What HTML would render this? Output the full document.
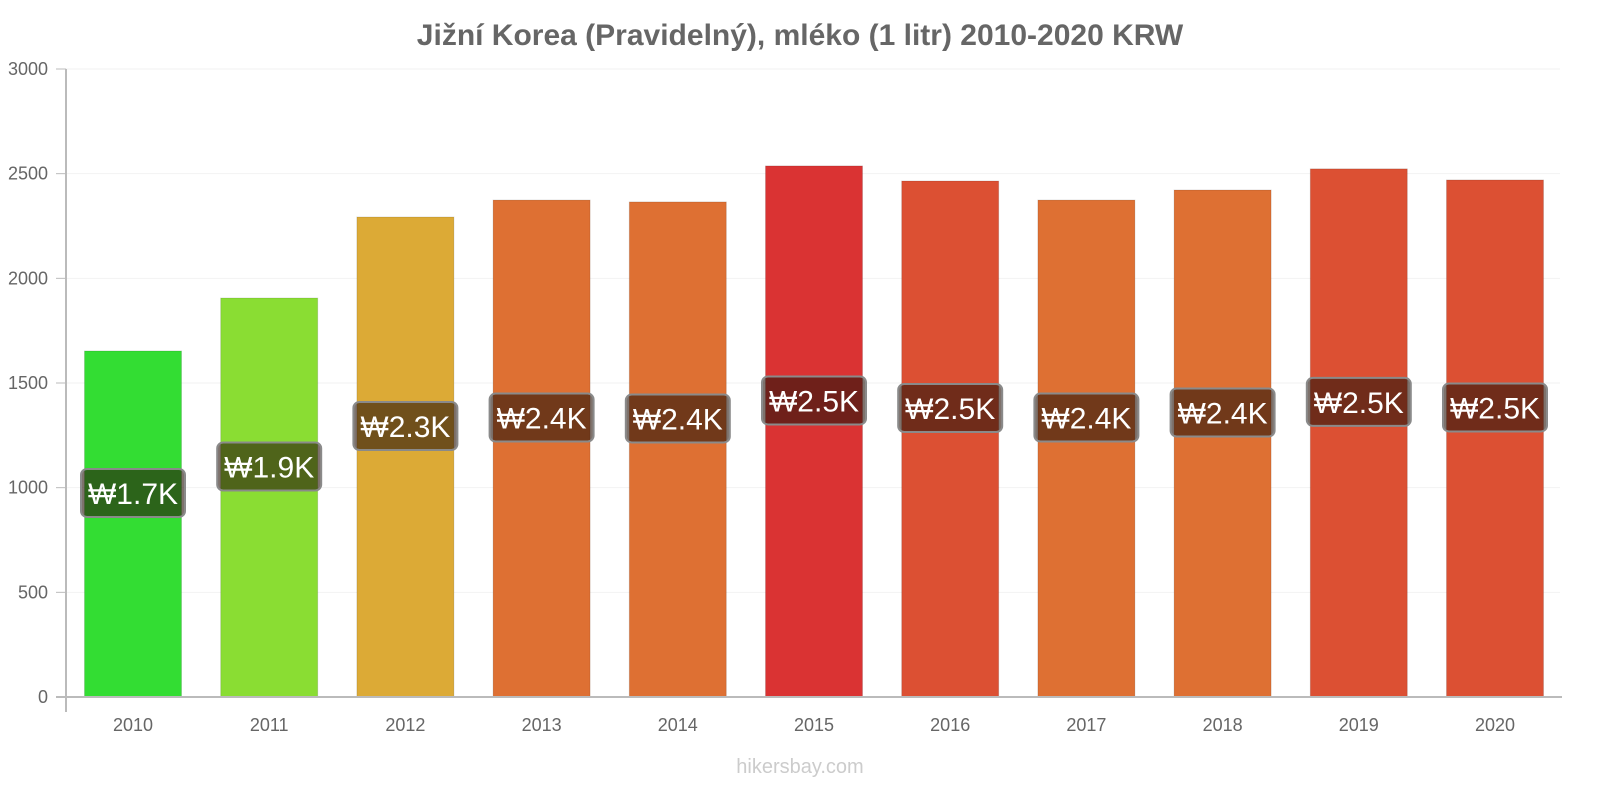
<!DOCTYPE html>
<html><head><meta charset="utf-8"><style>
body{margin:0;background:#fff;font-family:"Liberation Sans",sans-serif}
svg{display:block}
</style></head><body>
<svg id="chart" width="1600" height="800">
<text x="800" y="45" text-anchor="middle" font-size="30" font-weight="bold" fill="#666">Jižní Korea (Pravidelný), mléko (1 litr) 2010-2020 KRW</text>
<g id="grid"></g><g id="bars"></g><g id="labels"></g>
<line x1="66" y1="69" x2="66" y2="712" stroke="#bbb" stroke-width="2"/>
<line x1="56" y1="697" x2="1562" y2="697" stroke="#bbb" stroke-width="2"/>
<text x="800" y="773" text-anchor="middle" font-size="20" fill="#ccc">hikersbay.com</text>
</svg>
<script>
const categories=["2010","2011","2012","2013","2014","2015","2016","2017","2018","2019","2020"];
const values=[1653,1906,2293,2374,2365,2537,2465,2374,2422,2523,2470];
const valueLabels=["₩1.7K","₩1.9K","₩2.3K","₩2.4K","₩2.4K","₩2.5K","₩2.5K","₩2.4K","₩2.4K","₩2.5K","₩2.5K"];
const colors=["#33dd33","#8add33","#dcaa36","#de7033","#de7033","#da3333","#dc5033","#de7033","#de7033","#dc5033","#dc5033"];
const yTicks=[0,500,1000,1500,2000,2500,3000];
const NS="http://www.w3.org/2000/svg";
const y=v=>697-v*(628/3000);
const x=i=>133+i*136.2;
function mk(t,a,p){const e=document.createElementNS(NS,t);for(const k in a)e.setAttribute(k,a[k]);p.appendChild(e);return e;}
const grid=document.getElementById('grid'),bars=document.getElementById('bars'),labels=document.getElementById('labels');
yTicks.forEach(t=>{
 if(t>0){const l=mk('line',{x1:66,x2:1560,y1:y(t),y2:y(t),stroke:'#f2f2f2'},grid);
 
 }
 const tk=mk('line',{x1:56,x2:66,y1:y(t),y2:y(t),stroke:'#bbb'},grid);
 
 
 const tx=mk('text',{x:48,y:y(t)+6,'text-anchor':'end','font-size':18,fill:'#666'},grid);
 tx.textContent=t;
 
 
});
categories.forEach((c,i)=>{
 const top=y(values[i]);
 const r=mk('rect',{x:x(i)-48.5,y:top,width:97,height:697-top,fill:colors[i],stroke:'rgba(0,0,0,0.12)'},bars);
 
 
 const xl=mk('text',{x:x(i),y:731,'text-anchor':'middle','font-size':18,fill:'#666'},labels);
 xl.textContent=c;
 
 
 const cy=(top+697)/2-31;
 const b=mk('rect',{x:x(i)-52,y:cy-24,width:104,height:48,rx:6,fill:'rgba(40,20,10,0.6)',stroke:'#8a8a8a','stroke-width':2},labels);
 
 
 const t=mk('text',{x:x(i),y:cy+11,'text-anchor':'middle','font-size':30,fill:'#fff'},labels);
 t.textContent=valueLabels[i];
 
 
});
</script>
</body></html>
